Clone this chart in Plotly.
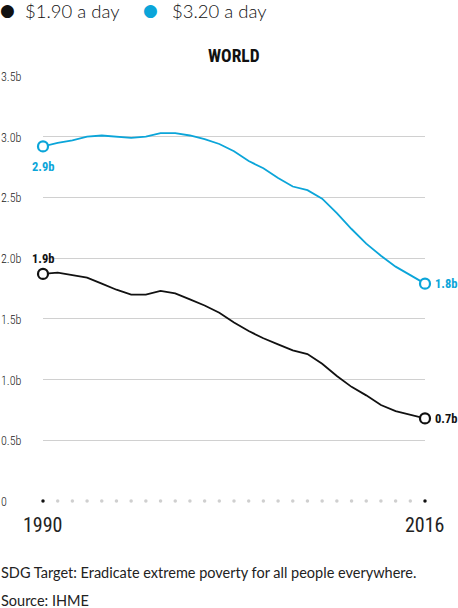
import plotly.graph_objects as go

years = list(range(1990, 2017))
low_line = [1.87, 1.88, 1.86, 1.84, 1.79, 1.74, 1.70, 1.70, 1.73, 1.71, 1.66, 1.61, 1.55,
            1.47, 1.40, 1.34, 1.29, 1.24, 1.21, 1.13, 1.03, 0.94, 0.87, 0.79, 0.74, 0.71, 0.68]
high_line = [2.92, 2.95, 2.97, 3.00, 3.01, 3.00, 2.99, 3.00, 3.03, 3.03, 3.01, 2.98, 2.94,
             2.88, 2.80, 2.74, 2.66, 2.59, 2.56, 2.49, 2.37, 2.24, 2.12, 2.02, 1.93, 1.86, 1.79]
series_names = ["$1.90 a day", "$3.20 a day"]
start_labels = ["1.9b", "2.9b"]
end_labels = ["0.7b", "1.8b"]
y_ticks = [0, 0.5, 1.0, 1.5, 2.0, 2.5, 3.0, 3.5]
y_tick_labels = ["0", "0.5b", "1.0b", "1.5b", "2.0b", "2.5b", "3.0b", "3.5b"]
x_ticks = [1990, 2016]
x_tick_labels = ["1990", "2016"]

BLACK = "#111111"
BLUE = "#0ba5d9"
GRID = "#d0d0d0"
COND = "Roboto Condensed, Liberation Sans Narrow, Roboto, sans-serif"
BODY = "Lato, Open Sans, sans-serif"

fig = go.Figure()

# axis dots
fig.add_trace(go.Scatter(
    x=years, y=[0] * len(years), mode="markers",
    marker=dict(size=3.5, color=[BLACK if yr in x_ticks else "#cfcfcf" for yr in years]),
    hoverinfo="skip", showlegend=False, cliponaxis=False))

for vals, col in [(high_line, BLUE), (low_line, BLACK)]:
    fig.add_trace(go.Scatter(
        x=years, y=vals, mode="lines", line=dict(color=col, width=1.8),
        showlegend=False, cliponaxis=False))
    fig.add_trace(go.Scatter(
        x=[years[0], years[-1]], y=[vals[0], vals[-1]], mode="markers",
        marker=dict(size=10, color="white", line=dict(color=col, width=2.2)),
        showlegend=False, cliponaxis=False))

# end labels
fig.add_annotation(x=years[0], y=low_line[0], text="<b>" + start_labels[0] + "</b>",
                   showarrow=False, xanchor="center", yanchor="bottom", yshift=6,
                   font=dict(family=COND, size=12.5, color=BLACK))
fig.add_annotation(x=years[0], y=high_line[0], text="<b>" + start_labels[1] + "</b>",
                   showarrow=False, xanchor="center", yanchor="top", yshift=-11,
                   font=dict(family=COND, size=12.5, color=BLUE))
fig.add_annotation(x=years[-1], y=low_line[-1], text="<b>" + end_labels[0] + "</b>",
                   showarrow=False, xanchor="left", yanchor="middle", xshift=8,
                   font=dict(family=COND, size=12.5, color=BLACK))
fig.add_annotation(x=years[-1], y=high_line[-1], text="<b>" + end_labels[1] + "</b>",
                   showarrow=False, xanchor="left", yanchor="middle", xshift=8,
                   font=dict(family=COND, size=12.5, color=BLUE))

# y tick labels, left aligned
for v, lab in zip(y_ticks, y_tick_labels):
    fig.add_annotation(x=0, xref="paper", xshift=-44, y=v, yref="y", text=lab,
                       showarrow=False, xanchor="left", yanchor="middle", yshift=-1,
                       font=dict(family=COND, size=12, color="#222222", weight=300))

# x tick labels under the first and last year
for v, lab in zip(x_ticks, x_tick_labels):
    fig.add_annotation(x=v, y=0, yref="paper", text=lab, showarrow=False,
                       xanchor="center", yanchor="middle", yshift=-24,
                       font=dict(family=COND, size=20, color="#222222"))

# legend
for i, (name, col) in enumerate(zip(series_names, [BLACK, BLUE])):
    dot_x = -36 + i * 143
    txt_x = -20 + i * 147
    fig.add_annotation(x=0, xref="paper", xshift=dot_x, y=1, yref="paper", yshift=66,
                       text="●", showarrow=False, xanchor="center", yanchor="middle",
                       font=dict(family="DejaVu Sans", size=17, color=col))
    fig.add_annotation(x=0, xref="paper", xshift=txt_x, y=1, yref="paper", yshift=65,
                       text=name, showarrow=False, xanchor="left", yanchor="middle",
                       font=dict(family=BODY, size=18.5, color=BLACK, weight=300))

# title
fig.add_annotation(x=0.5, xref="paper", y=1, yref="paper", yshift=20,
                   text="<b>WORLD</b>", showarrow=False, xanchor="center", yanchor="middle",
                   font=dict(family=COND, size=17.5, color=BLACK))

# footer
fig.add_annotation(x=0, xref="paper", xshift=-44, y=0, yref="paper", yshift=-71,
                   text="SDG Target: Eradicate extreme poverty for all people everywhere.",
                   showarrow=False, xanchor="left", yanchor="middle",
                   font=dict(family=BODY, size=14.5, color="#222222"))
fig.add_annotation(x=0, xref="paper", xshift=-44, y=0, yref="paper", yshift=-99,
                   text="Source: IHME", showarrow=False, xanchor="left", yanchor="middle",
                   font=dict(family=BODY, size=14.5, color="#222222"))

fig.update_layout(
    width=458, height=608,
    margin=dict(l=43, r=33, t=76, b=107),
    paper_bgcolor="white", plot_bgcolor="white",
    showlegend=False,
    xaxis=dict(range=[1990, 2016], showticklabels=False,
               showgrid=False, zeroline=False, showline=False, ticks=""),
    yaxis=dict(range=[0, 3.5], tickvals=y_ticks[1:], showticklabels=False,
               showgrid=True, gridcolor=GRID, gridwidth=1, zeroline=False, showline=False),
)

fig.write_html("out.html", config={"displayModeBar": False},
               post_script="document.body.style.margin='0';document.body.style.overflow='hidden';")
